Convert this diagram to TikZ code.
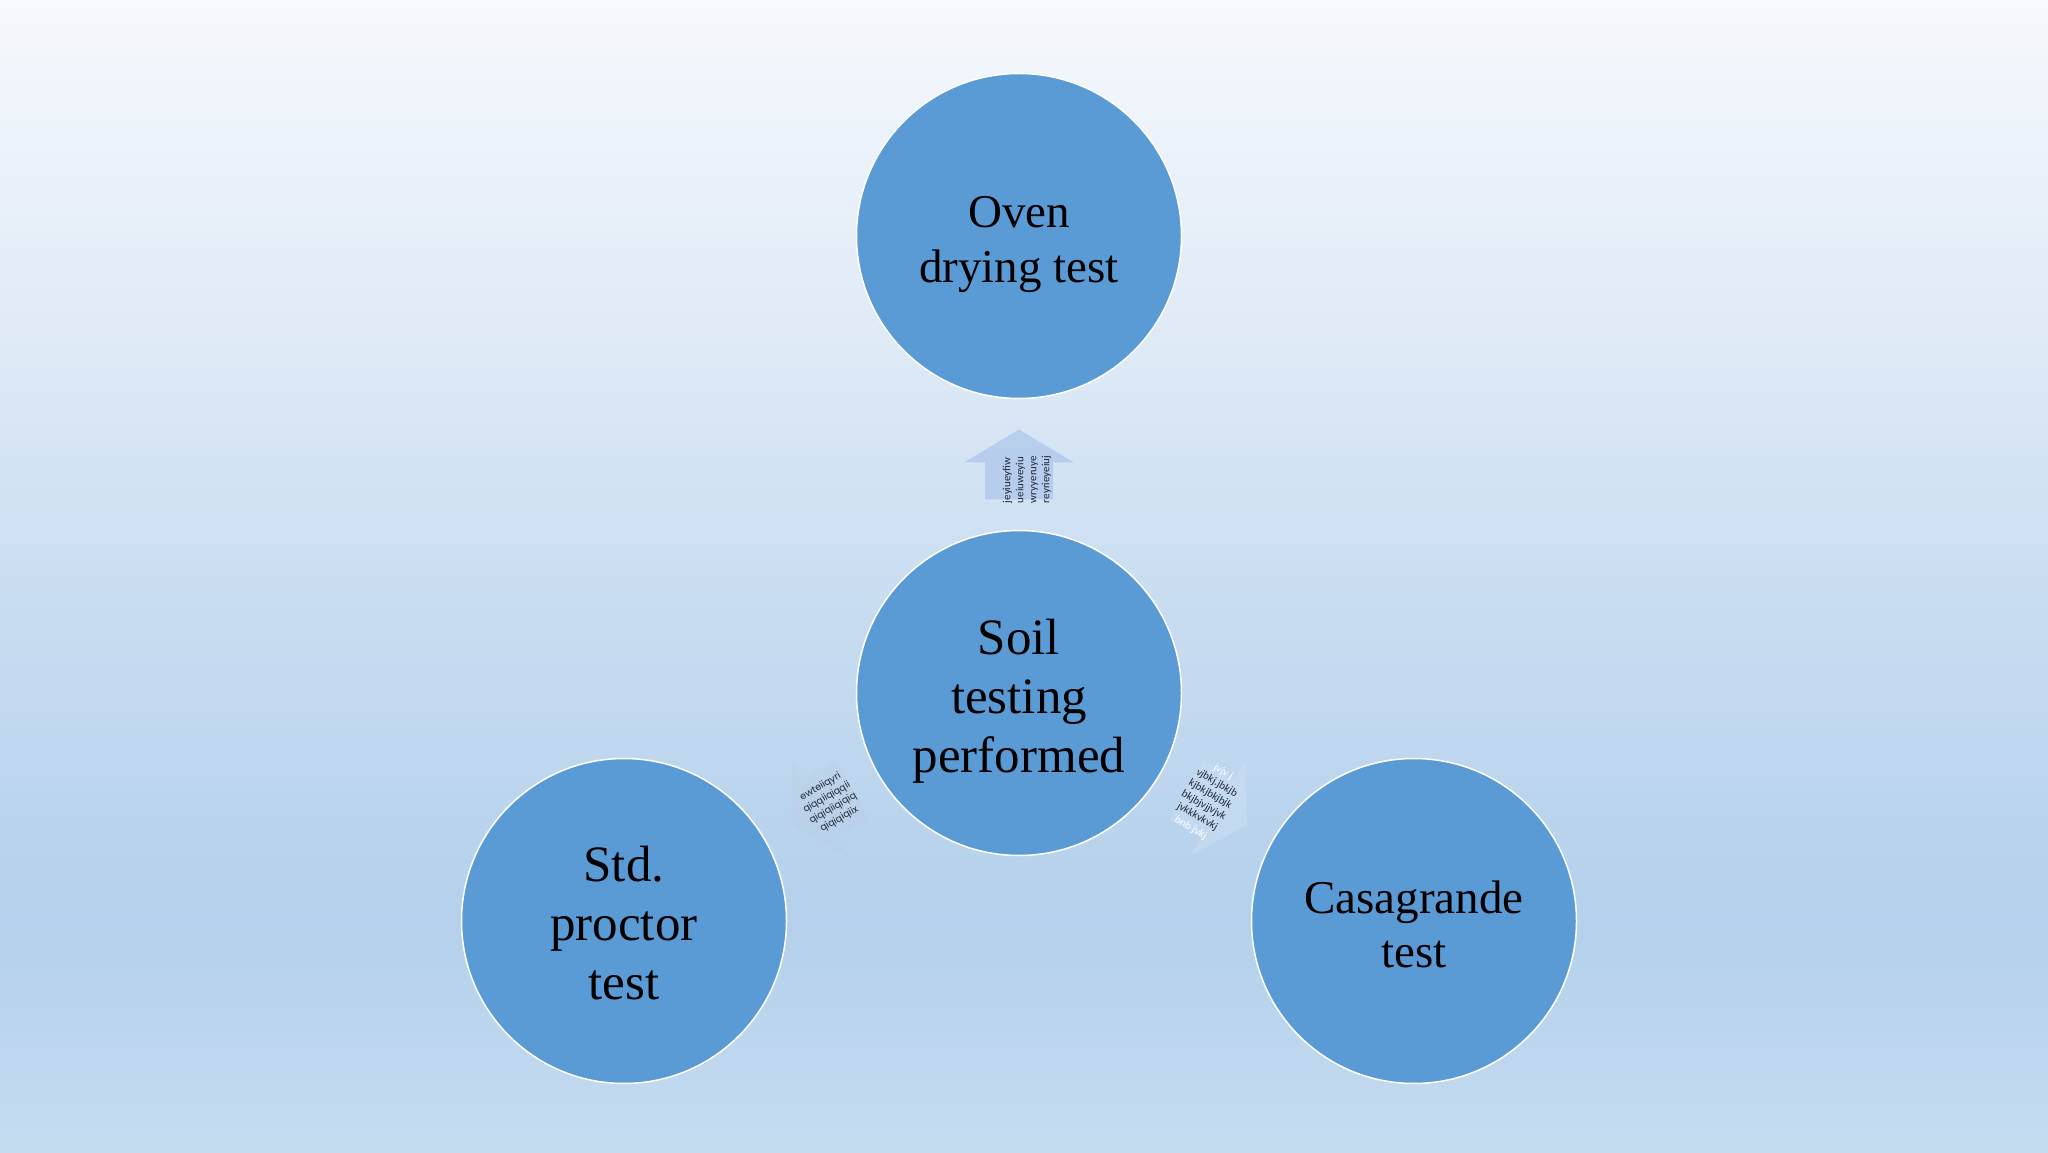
\documentclass[tikz,border=0pt]{standalone}
\usepackage{fontspec}
\setmainfont{Liberation Serif}
\newfontfamily\arrowfont{Carlito}
\newfontfamily\roundfont{Poppins}
\usetikzlibrary{calc}
\definecolor{circblue}{RGB}{91,155,213}
\definecolor{arrblue}{RGB}{178,202,236}
\definecolor{txtdark}{RGB}{35,40,55}
\pgfdeclareverticalshading{bgshade}{100bp}{%
  color(0bp)=(rgb,255:red,197;green,220;blue,240);
  color(25bp)=(rgb,255:red,197;green,220;blue,240);
  color(35bp)=(rgb,255:red,180;green,208;blue,236);
  color(49bp)=(rgb,255:red,201;green,221;blue,241);
  color(62bp)=(rgb,255:red,226;green,236;blue,247);
  color(75bp)=(rgb,255:red,246;green,249;blue,253);
  color(100bp)=(rgb,255:red,246;green,249;blue,253)}
\newcommand\sarrow[3]{%
  \path[#3, shift={(#1)}, rotate=#2]
    (-35,-34) -- (2,-34) -- (2,-55) -- (35,0) -- (2,55) -- (2,34) -- (-35,34) -- cycle;}
\begin{document}
\begin{tikzpicture}[x=1pt,y=1pt,
  bubble/.style={circle, minimum size=325pt, inner sep=0pt, fill=circblue,
    draw=white, line width=1.5pt, align=center, text=black},
  arrtext/.style={font=\arrowfont\fontsize{11}{13}\selectfont, align=center,
    inner sep=0pt, text=txtdark}]
\useasboundingbox (0,0) rectangle (2048,1152);
\shade[shading=bgshade] (0,0) rectangle (2048,1152);

\node[bubble] (t) at (1019,916) {};
\node[bubble] (c) at (1019,459) {};
\node[bubble] (l) at (624,231) {};
\node[bubble] (r) at (1414,231) {};

\node[align=center, font=\fontsize{47}{55}\selectfont] (tt) at ($(t)+(0,-9)$) {Oven\\drying test};
\node[align=center, font=\fontsize{51}{59}\selectfont] (ct) at ($(c)+(0,-8)$) {Soil\\testing\\performed};
\node[align=center, font=\fontsize{51}{59}\selectfont] (lt) at ($(l)+(0,-2)$) {Std.\\proctor\\test};
\node[align=center, font=\fontsize{47}{54}\selectfont] (rt) at ($(r)+(0,-3)$) {Casagrande\\test};

\coordinate (a1) at ($(c)!0.5!(t)$);
\coordinate (a2) at ($(c)!0.5!(l)$);
\coordinate (a3) at ($(c)!0.5!(r)$);

\sarrow{a1}{90}{fill=arrblue, fill opacity=0.85}
\sarrow{a2}{210}{fill=gray!60, fill opacity=0.07}
\sarrow{a3}{-30}{fill=white, fill opacity=0.12}

\node[arrtext, rotate=90, align=left] (t1) at ($(a1)+(8,-15)$)
  {jeyiueyfiw\\ueiuweyiu\\wryyeruye\\reyrieyeiuj};
\node[arrtext, font=\roundfont\fontsize{9.5}{12.5}\selectfont, rotate=30] (t2) at ($(a2)+(8.5,4)$)
  {ewteiiqyri\\qiqqiiqiqqii\\qiqiqiiqiqiq\\qiqiqiqiix};
\node[arrtext, rotate=-30] (t3) at ($(a3)+(-9.5,7)$)
  {\textcolor{white}{jvjv j}\\vjbkj.jbkjb\\kjbkjbkjbjk\\bkjbjvjjvjvk\\jvkkkvkvkj\\\textcolor{white}{bnb jvkj}};
\end{tikzpicture}
\end{document}
